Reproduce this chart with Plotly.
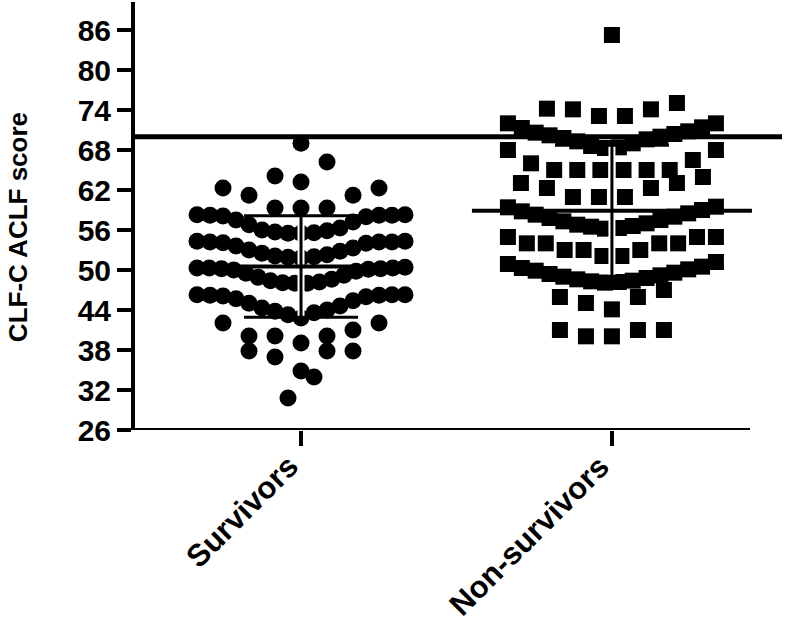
import numpy as np
import plotly.graph_objects as go

# group names shown on the x axis
groups = ["Survivors", "Non-survivors"]

# CLF-C ACLF score of each patient
survivors = [
    69.0,
    63.2, 64.1, 66.2,
    59.3, 59.3, 59.3, 61.2, 61.2, 62.3, 62.3,
    55.5, 55.5, 55.6, 55.7, 55.9, 56.0, 56.3, 56.8, 57.2, 57.5, 58.0, 58.1, 58.2, 58.2, 58.2, 58.3, 58.3,
    51.8, 51.9, 52.0, 52.1, 52.3, 52.5, 52.8, 53.0, 53.3, 53.6, 54.0, 54.1, 54.2, 54.2, 54.2, 54.3, 54.3,
    48.0, 48.0, 48.1, 48.2, 48.4, 48.6, 48.9, 49.2, 49.5, 49.8, 50.0, 50.1, 50.2, 50.2, 50.3, 50.3, 50.3, 50.4,
    42.8, 43.3, 43.6, 43.8, 44.0, 44.3, 44.6, 45.0, 45.4, 45.7, 46.0, 46.1, 46.2, 46.2, 46.3, 46.3, 46.3,
    39.05, 40.1, 40.1, 40.1, 41.0, 42.05, 42.05,
    34.85, 36.95, 37.85, 37.85, 37.85,
    30.8, 33.95,
]
non_survivors = [
    85.25,
    73.1, 73.1, 74.1, 74.1, 74.2, 75.05,
    68.3, 68.4, 68.6, 69.0, 69.3, 69.6, 69.8, 70.0, 70.2, 70.4, 70.6, 70.8, 71.3, 71.4, 72.0, 72.0,
    65.0, 65.0, 65.0, 65.0, 65.0, 65.0, 66.0, 66.5, 68.0, 68.0,
    60.95, 60.95, 60.95, 62.3, 62.3, 63.05, 63.05, 63.95,
    56.2, 56.3, 56.5, 56.6, 56.8, 57.0, 57.3, 57.5, 57.8, 58.0, 58.3, 58.5, 58.8, 59.0, 59.4, 59.5,
    52.1, 52.1, 53.0, 53.0, 53.0, 54.0, 54.0, 54.0, 54.0, 54.95, 54.95, 54.95,
    48.1, 48.2, 48.3, 48.4, 48.6, 48.8, 49.0, 49.2, 49.4, 49.6, 49.9, 50.1, 50.3, 50.5, 50.9, 51.2,
    44.1, 45.05, 45.95, 45.95, 47.0,
    40.05, 40.05, 41.0, 41.0, 41.0,
]
ref_value = 70
y_ticks = list(range(26, 87, 6))

# layout (pixels)
W, H = 785, 629
L, R, T, B = 135, 3, 2, 199
X_RANGE = [-0.534, 1.547]
Y_RANGE = [26, 90.2]
PLOT_W = W - L - R
PLOT_H = H - T - B
PX_PER_X = PLOT_W / (X_RANGE[1] - X_RANGE[0])
FONT = "Liberation Sans, Arial"


def swarm(vals, center, anchor, band=4.0, max_w=208, step=26):
    # Prism-like layout: rows of `band` units, lowest value in the middle
    vals = np.asarray(vals, dtype=float)
    xs = np.zeros(len(vals))
    rows = np.ceil((vals - anchor) / band)
    for r in np.unique(rows):
        idx = np.where(rows == r)[0]
        idx = idx[np.argsort(vals[idx], kind="stable")]
        n = len(idx)
        s = min(step, max_w / (n - 1)) if n > 1 else 0
        slots = []
        if n % 2:
            slots.append(0)
            k = 1
            while len(slots) < n:
                slots += [-k, k]
                k += 1
        else:
            k = 0.5
            while len(slots) < n:
                slots += [-k, k]
                k += 1
        xs[idx] = center + np.array(slots[:n]) * s / PX_PER_X
    return xs


fig = go.Figure()

specs = [
    (survivors, 0, 30.5, "circle", 17, 110),
    (non_survivors, 1, 40.0, "square", 16, 140),
]

for vals, c, anchor, sym, size, half in specs:
    xs = swarm(vals, c, anchor)
    fig.add_trace(go.Scatter(
        x=xs, y=vals, mode="markers",
        marker=dict(symbol=sym, size=size, color="black", line=dict(width=0)),
        showlegend=False, hoverinfo="y",
    ))

    m = float(np.mean(vals))
    sd = float(np.std(vals, ddof=1))
    hw = half / PX_PER_X
    cap = 57 / PX_PER_X
    # SD whisker with a thin white halo, then caps and mean line
    fig.add_trace(go.Scatter(x=[c, c], y=[m - sd, m + sd], mode="lines",
                             line=dict(color="white", width=7), showlegend=False, hoverinfo="skip"))
    fig.add_trace(go.Scatter(x=[c, c], y=[m - sd, m + sd], mode="lines",
                             line=dict(color="black", width=3), showlegend=False, hoverinfo="skip"))
    for yv in (m - sd, m + sd):
        fig.add_trace(go.Scatter(x=[c - cap, c + cap], y=[yv, yv], mode="lines",
                                 line=dict(color="black", width=3), showlegend=False, hoverinfo="skip"))
    fig.add_trace(go.Scatter(x=[c - hw, c + hw], y=[m, m], mode="lines",
                             line=dict(color="black", width=4), showlegend=False, hoverinfo="skip"))

    # rotated group label under the tick
    fig.add_annotation(
        text=groups[c], textangle=-45, showarrow=False,
        xref="x", yref="paper", x=c + 7 / PX_PER_X, y=-16 / PLOT_H,
        xanchor="right", yanchor="top",
        font=dict(family=FONT, size=31, color="black", weight="bold"),
    )

# reference line and x axis line
fig.add_shape(type="line", xref="paper", yref="y", x0=0, x1=1, y0=ref_value, y1=ref_value,
              line=dict(color="black", width=5))
fig.add_shape(type="line", xref="paper", yref="y", x0=-2 / PLOT_W, x1=(750 - L) / PLOT_W,
              y0=Y_RANGE[0], y1=Y_RANGE[0], line=dict(color="black", width=4))

fig.add_annotation(
    text="CLF-C ACLF score", textangle=-90, showarrow=False,
    xref="paper", yref="paper", x=-(L - 18) / PLOT_W, y=0.474,
    xanchor="center", yanchor="middle",
    font=dict(family=FONT, size=26, color="black", weight="bold"),
)

fig.update_layout(
    width=W, height=H,
    margin=dict(l=L, r=R, t=T, b=B),
    plot_bgcolor="white", paper_bgcolor="white",
    xaxis=dict(
        range=X_RANGE, tickvals=[0, 1], showticklabels=False,
        showgrid=False, zeroline=False, showline=False,
        ticks="outside", ticklen=15, tickwidth=4, tickcolor="black",
    ),
    yaxis=dict(
        range=Y_RANGE, tickvals=y_ticks,
        showgrid=False, zeroline=False, showline=True, linewidth=4, linecolor="black",
        ticks="outside", ticklen=14, tickwidth=4, tickcolor="black",
        tickfont=dict(family=FONT, size=30, color="black", weight="bold"),
    ),
)

fig.write_html("out.html", config={"displayModeBar": False},
               post_script="document.body.style.margin='0px';")
